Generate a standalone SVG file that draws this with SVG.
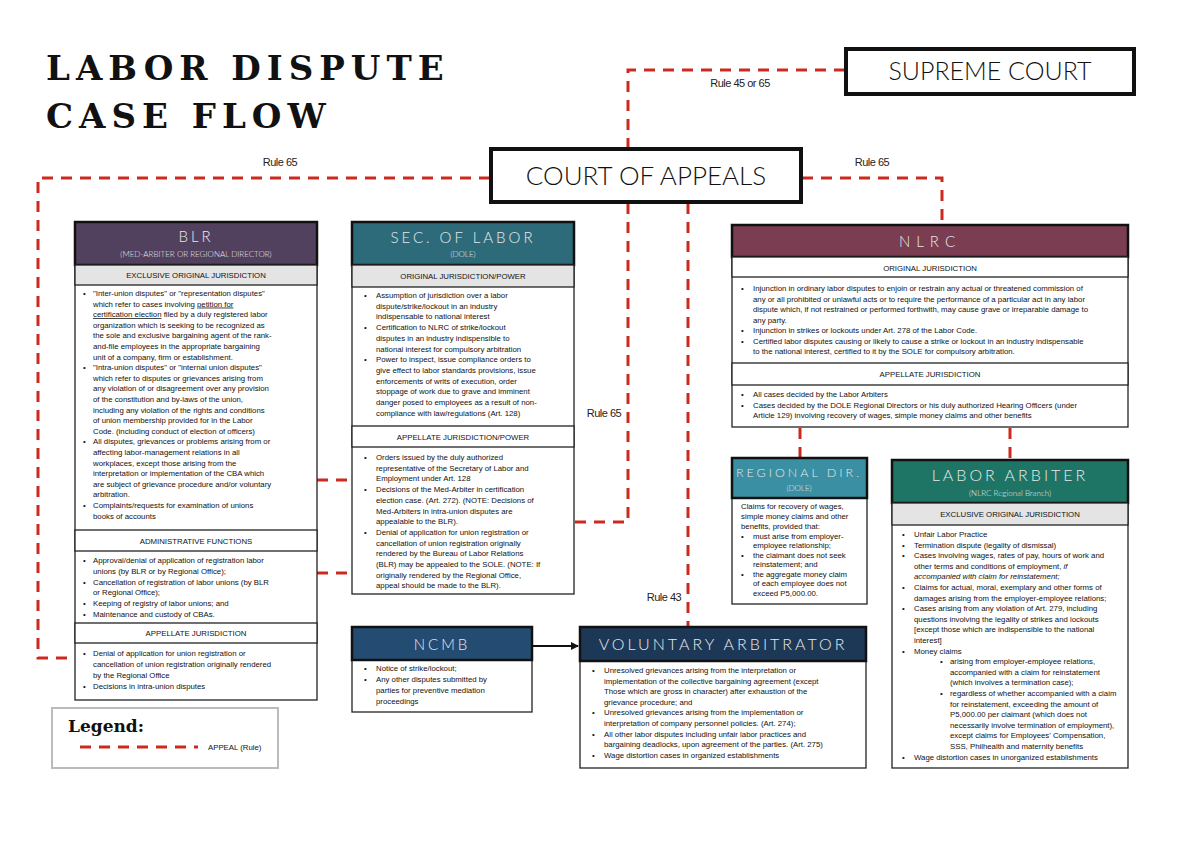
<svg xmlns="http://www.w3.org/2000/svg" width="1200" height="848" viewBox="0 0 1200 848">
<defs>
<style>
.b{font-family:"Liberation Sans",Arial,sans-serif;font-size:7.8px;fill:#111}
.s{font-family:"Liberation Sans",Arial,sans-serif;font-size:7.8px;fill:#111;text-anchor:middle}
.h{font-family:Lato,"DejaVu Sans",sans-serif;font-weight:300;fill:#e8e8e8;text-anchor:middle;letter-spacing:3px}
.hs{font-family:Lato,"DejaVu Sans",sans-serif;font-weight:300;fill:#e8e8e8;text-anchor:middle;font-size:8px;letter-spacing:0}
.big{font-family:Lato,"DejaVu Sans",sans-serif;font-weight:300;fill:#111;text-anchor:middle}
.box{fill:#fff;stroke:#222;stroke-width:1.3}
.gray{fill:#e4e4e4;stroke:#222;stroke-width:1.3}
.sub{fill:#fff;stroke:#222;stroke-width:1.3}
.hd{stroke:#111;stroke-width:2.5}
.dash{fill:none;stroke:#cc2a1e;stroke-width:3;stroke-dasharray:11 8}
.rl{font-family:"Liberation Sans",Arial,sans-serif;font-size:11px;fill:#222;text-anchor:middle;letter-spacing:-0.5px}
.t{font-family:"DejaVu Serif",serif;font-weight:bold;font-size:34px;letter-spacing:6px;fill:#111}
</style>
<marker id="ar" markerWidth="8" markerHeight="8" refX="7" refY="4" orient="auto" markerUnits="userSpaceOnUse"><path d="M0,0 L8,4 L0,8z" fill="#111"/></marker>
</defs>
<rect width="1200" height="848" fill="#fff"/>
<text class="t" x="46" y="80">LABOR DISPUTE</text>
<text class="t" x="46" y="128">CASE FLOW</text>

<g id="connectors">
<path class="dash" d="M845,70 H628 V148"/>
<path class="dash" d="M490,178 H38 V658 H75"/>
<path class="dash" d="M802,178 H942 V225"/>
<path class="dash" d="M628,203 V522 H575"/>
<path class="dash" d="M688,203 V627"/>
<path class="dash" d="M317,480 H352"/>
<path class="dash" d="M317,573 H352"/>
<path class="dash" d="M800,428 V458"/>
<path class="dash" d="M1010,428 V460"/>
<path d="M532,646 H578" stroke="#111" stroke-width="1.8" marker-end="url(#ar)"/>
<text class="rl" x="740" y="87">Rule 45 or 65</text>
<text class="rl" x="280" y="166">Rule 65</text>
<text class="rl" x="872" y="166">Rule 65</text>
<text class="rl" x="604" y="417">Rule 65</text>
<text class="rl" x="664" y="601">Rule 43</text>
</g>

<g id="supreme-court">
<rect x="846" y="49" width="288" height="45" fill="#fff" stroke="#111" stroke-width="4"/>
<text class="big" x="990" y="80" font-size="25">SUPREME COURT</text>
</g>
<g id="court-of-appeals">
<rect x="491" y="149" width="310" height="53" fill="#fff" stroke="#111" stroke-width="4"/>
<text class="big" x="646" y="185" font-size="26">COURT OF APPEALS</text>
</g>

<g id="blr">
<rect class="box" x="75" y="222" width="242" height="478"/>
<rect class="hd" x="75" y="222" width="242" height="43" fill="#52405f"/>
<text class="h" x="196" y="242" font-size="15">BLR</text>
<text class="hs" x="196" y="257">(MED-ARBITER OR REGIONAL DIRECTOR)</text>
<rect class="gray" x="75" y="265" width="242" height="20"/>
<text class="s" x="196" y="278">EXCLUSIVE ORIGINAL JURISDICTION</text>
<text class="b">
<tspan x="83" y="296">•</tspan><tspan x="93" y="296">"Inter-union disputes" or "representation disputes"</tspan>
<tspan x="93" y="306.6">which refer to cases involving <tspan text-decoration="underline">petition for</tspan></tspan>
<tspan x="93" y="317.2"><tspan text-decoration="underline">certification election</tspan> filed by a duly registered labor</tspan>
<tspan x="93" y="327.8">organization which is seeking to be recognized as</tspan>
<tspan x="93" y="338.4">the sole and exclusive bargaining agent of the rank-</tspan>
<tspan x="93" y="349">and-file employees in the appropriate bargaining</tspan>
<tspan x="93" y="359.6">unit of a company, firm or establishment.</tspan>
<tspan x="83" y="370.2">•</tspan><tspan x="93" y="370.2">"Intra-union disputes" or "internal union disputes"</tspan>
<tspan x="93" y="380.8">which refer to disputes or grievances arising from</tspan>
<tspan x="93" y="391.4">any violation of or disagreement over any provision</tspan>
<tspan x="93" y="402">of the constitution and by-laws of the union,</tspan>
<tspan x="93" y="412.6">including any violation of the rights and conditions</tspan>
<tspan x="93" y="423.2">of union membership provided for in the Labor</tspan>
<tspan x="93" y="433.8">Code. (including conduct of election of officers)</tspan>
<tspan x="83" y="444.4">•</tspan><tspan x="93" y="444.4">All disputes, grievances or problems arising from or</tspan>
<tspan x="93" y="455">affecting labor-management relations in all</tspan>
<tspan x="93" y="465.6">workplaces, except those arising from the</tspan>
<tspan x="93" y="476.2">interpretation or implementation of the CBA which</tspan>
<tspan x="93" y="486.8">are subject of grievance procedure and/or voluntary</tspan>
<tspan x="93" y="497.4">arbitration.</tspan>
<tspan x="83" y="508">•</tspan><tspan x="93" y="508">Complaints/requests for examination of unions</tspan>
<tspan x="93" y="518.6">books of accounts</tspan>
</text>
<rect class="sub" x="75" y="530" width="242" height="21"/>
<text class="s" x="196" y="544">ADMINISTRATIVE FUNCTIONS</text>
<text class="b">
<tspan x="83" y="563">•</tspan><tspan x="93" y="563">Approval/denial of application of registration labor</tspan>
<tspan x="93" y="573.8">unions (by BLR or by Regional Office);</tspan>
<tspan x="83" y="584.6">•</tspan><tspan x="93" y="584.6">Cancellation of registration of labor unions (by BLR</tspan>
<tspan x="93" y="595.4">or Regional Office);</tspan>
<tspan x="83" y="606.2">•</tspan><tspan x="93" y="606.2">Keeping of registry of labor unions; and</tspan>
<tspan x="83" y="617">•</tspan><tspan x="93" y="617">Maintenance and custody of CBAs.</tspan>
</text>
<rect class="sub" x="75" y="623" width="242" height="20"/>
<text class="s" x="196" y="636">APPELLATE JURISDICTION</text>
<text class="b">
<tspan x="83" y="656">•</tspan><tspan x="93" y="656">Denial of application for union registration or</tspan>
<tspan x="93" y="666.5">cancellation of union registration originally rendered</tspan>
<tspan x="93" y="678">by the Regional Office</tspan>
<tspan x="83" y="689">•</tspan><tspan x="93" y="689">Decisions in intra-union disputes</tspan>
</text>
</g>

<g id="legend">
<rect x="52" y="708" width="226" height="60" fill="#fff" stroke="#bbb" stroke-width="2"/>
<text x="68" y="732" font-family="'DejaVu Serif',serif" font-weight="bold" font-size="17" fill="#111">Legend:</text>
<path class="dash" d="M80,747 H198"/>
<text x="208" y="750" class="b" font-size="8.5">APPEAL (Rule)</text>
</g>

<g id="sec-of-labor">
<rect class="box" x="352" y="222" width="222" height="372"/>
<rect class="hd" x="352" y="222" width="222" height="43" fill="#2d6b7a"/>
<text class="h" x="463" y="243" font-size="15">SEC. OF LABOR</text>
<text class="hs" x="463" y="257">(DOLE)</text>
<rect class="gray" x="352" y="265" width="222" height="22"/>
<text class="s" x="463" y="279">ORIGINAL JURISDICTION/POWER</text>
<text class="b">
<tspan x="364" y="298">•</tspan><tspan x="376" y="298">Assumption of jurisdiction over a labor</tspan>
<tspan x="376" y="308.7">dispute/strike/lockout in an industry</tspan>
<tspan x="376" y="319.4">indispensable to national interest</tspan>
<tspan x="364" y="330.1">•</tspan><tspan x="376" y="330.1">Certification to NLRC of strike/lockout</tspan>
<tspan x="376" y="340.8">disputes in an industry indispensible to</tspan>
<tspan x="376" y="351.5">national interest for compulsory arbitration</tspan>
<tspan x="364" y="362.2">•</tspan><tspan x="376" y="362.2">Power to inspect, issue compliance orders to</tspan>
<tspan x="376" y="372.9">give effect to labor standards provisions, issue</tspan>
<tspan x="376" y="383.6">enforcements of writs of execution, order</tspan>
<tspan x="376" y="394.3">stoppage of work due to grave and imminent</tspan>
<tspan x="376" y="405">danger posed to employees as a result of non-</tspan>
<tspan x="376" y="415.7">compliance with law/regulations (Art. 128)</tspan>
</text>
<rect class="sub" x="352" y="426" width="222" height="21"/>
<text class="s" x="463" y="440">APPELLATE JURISDICTION/POWER</text>
<text class="b">
<tspan x="364" y="460">•</tspan><tspan x="376" y="460">Orders issued by the duly authorized</tspan>
<tspan x="376" y="470.7">representative of the Secretary of Labor and</tspan>
<tspan x="376" y="481.4">Employment under Art. 128</tspan>
<tspan x="364" y="492.1">•</tspan><tspan x="376" y="492.1">Decisions of the Med-Arbiter in certification</tspan>
<tspan x="376" y="502.8">election case. (Art. 272). (NOTE: Decisions of</tspan>
<tspan x="376" y="513.5">Med-Arbiters in intra-union disputes are</tspan>
<tspan x="376" y="524.2">appealable to the BLR).</tspan>
<tspan x="364" y="534.9">•</tspan><tspan x="376" y="534.9">Denial of application for union registration or</tspan>
<tspan x="376" y="545.6">cancellation of union registration originally</tspan>
<tspan x="376" y="556.3">rendered by the Bureau of Labor Relations</tspan>
<tspan x="376" y="567">(BLR) may be appealed to the SOLE. (NOTE: If</tspan>
<tspan x="376" y="577.7">originally rendered by the Regional Office,</tspan>
<tspan x="376" y="588.4">appeal should be made to the BLR).</tspan>
</text>
</g>

<g id="nlrc">
<rect class="box" x="732" y="225" width="396" height="202"/>
<rect class="hd" x="732" y="225" width="396" height="32" fill="#7a3d52"/>
<text class="h" x="930" y="247" font-size="15" style="letter-spacing:6px">NLRC</text>
<rect class="sub" x="732" y="257" width="396" height="20"/>
<text class="s" x="930" y="271">ORIGINAL JURISDICTION</text>
<text class="b" font-size="7.4">
<tspan x="741" y="291">•</tspan><tspan x="753" y="291">Injunction in ordinary labor disputes to enjoin or restrain any actual or threatened commission of</tspan>
<tspan x="753" y="301.5">any or all prohibited or unlawful acts or to require the performance of a particular act in any labor</tspan>
<tspan x="753" y="312">dispute which, if not restrained or performed forthwith, may cause grave or irreparable damage to</tspan>
<tspan x="753" y="322.5">any party.</tspan>
<tspan x="741" y="333">•</tspan><tspan x="753" y="333">Injunction in strikes or lockouts under Art. 278 of the Labor Code.</tspan>
<tspan x="741" y="343.5">•</tspan><tspan x="753" y="343.5">Certified labor disputes causing or likely to cause a strike or lockout in an industry indispensable</tspan>
<tspan x="753" y="354">to the national interest, certified to it by the SOLE for compulsory arbitration.</tspan>
</text>
<rect class="sub" x="732" y="363" width="396" height="22"/>
<text class="s" x="930" y="377">APPELLATE JURISDICTION</text>
<text class="b" font-size="7.4">
<tspan x="741" y="397">•</tspan><tspan x="753" y="397">All cases decided by the Labor Arbiters</tspan>
<tspan x="741" y="407.5">•</tspan><tspan x="753" y="407.5">Cases decided by the DOLE Regional Directors or his duly authorized Hearing Officers (under</tspan>
<tspan x="753" y="418">Article 129) involving recovery of wages, simple money claims and other benefits</tspan>
</text>
</g>

<g id="regional-dir">
<rect class="box" x="732" y="458" width="135" height="146"/>
<rect class="hd" x="732" y="458" width="135" height="40" fill="#3a8fa3"/>
<text class="h" x="799" y="477" font-size="12.5">REGIONAL DIR.</text>
<text class="hs" x="799" y="491">(DOLE)</text>
<text class="b" font-size="6.8">
<tspan x="741" y="509">Claims for recovery of wages,</tspan>
<tspan x="741" y="518.5">simple money claims and other</tspan>
<tspan x="741" y="528.5">benefits, provided that:</tspan>
<tspan x="741" y="538.5">•</tspan><tspan x="753" y="538.5">must arise from employer-</tspan>
<tspan x="753" y="547.5">employee relationship;</tspan>
<tspan x="741" y="557.5">•</tspan><tspan x="753" y="557.5">the claimant does not seek</tspan>
<tspan x="753" y="566.5">reinstatement; and</tspan>
<tspan x="741" y="576.5">•</tspan><tspan x="753" y="576.5">the aggregate money claim</tspan>
<tspan x="753" y="585.5">of each employee does not</tspan>
<tspan x="753" y="595.5">exceed P5,000.00.</tspan>
</text>
</g>

<g id="labor-arbiter">
<rect class="box" x="892" y="460" width="236" height="308"/>
<rect class="hd" x="892" y="460" width="236" height="43" fill="#1e7566"/>
<text class="h" x="1010" y="481" font-size="16">LABOR ARBITER</text>
<text class="hs" x="1010" y="496">(NLRC Regional Branch)</text>
<rect class="gray" x="892" y="503" width="236" height="22"/>
<text class="s" x="1010" y="517">EXCLUSIVE ORIGINAL JURISDICTION</text>
<text class="b" font-size="7.5">
<tspan x="902" y="537">•</tspan><tspan x="914" y="537">Unfair Labor Practice</tspan>
<tspan x="902" y="547.6">•</tspan><tspan x="914" y="547.6">Termination dispute (legality of dismissal)</tspan>
<tspan x="902" y="558.2">•</tspan><tspan x="914" y="558.2">Cases involving wages, rates of pay, hours of work and</tspan>
<tspan x="914" y="568.8">other terms and conditions of employment, <tspan font-style="italic">if</tspan></tspan>
<tspan x="914" y="579.4" font-style="italic">accompanied with claim for reinstatement;</tspan>
<tspan x="902" y="590">•</tspan><tspan x="914" y="590">Claims for actual, moral, exemplary and other forms of</tspan>
<tspan x="914" y="600.6">damages arising from the employer-employee relations;</tspan>
<tspan x="902" y="611.2">•</tspan><tspan x="914" y="611.2">Cases arising from any violation of Art. 279, including</tspan>
<tspan x="914" y="621.8">questions involving the legality of strikes and lockouts</tspan>
<tspan x="914" y="632.4">[except those which are indispensible to the national</tspan>
<tspan x="914" y="643">interest]</tspan>
<tspan x="902" y="653.6">•</tspan><tspan x="914" y="653.6">Money claims</tspan>
<tspan x="940" y="664.2">•</tspan><tspan x="950" y="664.2">arising from employer-employee relations,</tspan>
<tspan x="950" y="674.8">accompanied with a claim for reinstatement</tspan>
<tspan x="950" y="685.4">(which involves a termination case);</tspan>
<tspan x="940" y="696">•</tspan><tspan x="950" y="696">regardless of whether accompanied with a claim</tspan>
<tspan x="950" y="706.6">for reinstatement, exceeding the amount of</tspan>
<tspan x="950" y="717.2">P5,000.00 per claimant (which does not</tspan>
<tspan x="950" y="727.8">necessarily involve termination of employment),</tspan>
<tspan x="950" y="738.4">except claims for Employees' Compensation,</tspan>
<tspan x="950" y="749">SSS, Philhealth and maternity benefits</tspan>
<tspan x="902" y="759.6">•</tspan><tspan x="914" y="759.6">Wage distortion cases in unorganized establishments</tspan>
</text>
</g>

<g id="ncmb">
<rect class="box" x="352" y="627" width="180" height="85"/>
<rect class="hd" x="352" y="627" width="180" height="33" fill="#244b72"/>
<text class="h" x="442" y="650" font-size="15">NCMB</text>
<text class="b">
<tspan x="364" y="671">•</tspan><tspan x="376" y="671">Notice of strike/lockout;</tspan>
<tspan x="364" y="682">•</tspan><tspan x="376" y="682">Any other disputes submitted by</tspan>
<tspan x="376" y="693">parties for preventive mediation</tspan>
<tspan x="376" y="704">proceedings</tspan>
</text>
</g>

<g id="voluntary-arbitrator">
<rect class="box" x="580" y="627" width="286" height="141"/>
<rect class="hd" x="580" y="627" width="286" height="34" fill="#1c3856"/>
<text class="h" x="723" y="650" font-size="16">VOLUNTARY ARBITRATOR</text>
<text class="b" font-size="7.6">
<tspan x="592" y="673">•</tspan><tspan x="604" y="673">Unresolved grievances arising from the interpretation or</tspan>
<tspan x="604" y="683.6">implementation of the collective bargaining agreement (except</tspan>
<tspan x="604" y="694.2">Those which are gross in character) after exhaustion of the</tspan>
<tspan x="604" y="704.8">grievance procedure; and</tspan>
<tspan x="592" y="715.4">•</tspan><tspan x="604" y="715.4">Unresolved grievances arising from the implementation or</tspan>
<tspan x="604" y="726">interpretation of company personnel policies. (Art. 274);</tspan>
<tspan x="592" y="736.6">•</tspan><tspan x="604" y="736.6">All other labor disputes including unfair labor practices and</tspan>
<tspan x="604" y="747.2">bargaining deadlocks, upon agreement of the parties. (Art. 275)</tspan>
<tspan x="592" y="757.8">•</tspan><tspan x="604" y="757.8">Wage distortion cases in organized establishments</tspan>
</text>
</g>
</svg>
